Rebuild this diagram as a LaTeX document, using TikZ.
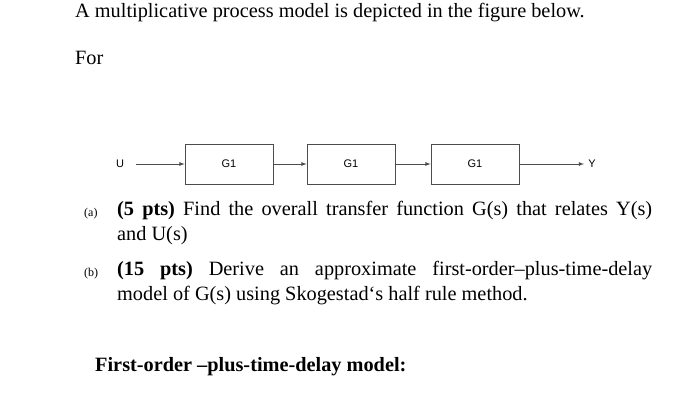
\documentclass[tikz,border=0pt]{standalone}
\usepackage{fontspec}
\setmainfont{Liberation Serif}
\newfontfamily\arial{Liberation Sans}
\begin{document}
\begin{tikzpicture}[x=1pt,y=-1pt,
  blk/.style={draw=black!70,line width=0.8pt,minimum width=88pt,minimum height=40pt,inner sep=0pt,font=\arial\fontsize{11}{13}\selectfont},
  sig/.style={font=\arial\fontsize{11}{13}\selectfont,inner sep=0pt},
  con/.style={draw=black!70,line width=0.8pt,-latex},
  txt/.style={anchor=west,inner sep=0pt,font=\fontsize{20.3}{24}\selectfont},
  par/.style={anchor=north west,inner sep=0pt,text width=535pt,align=justify,font=\fontsize{20.3}{25}\selectfont},
  lab/.style={anchor=west,inner sep=0pt,font=\fontsize{12}{14}\selectfont}]
\useasboundingbox (0,0) rectangle (700,416);
\node[txt] (t1) at (75,13) {A multiplicative process model is depicted in the figure below.};
\node[txt] (t2) at (75,58) {For};
\node[blk] (b1) at (229,164) {G1};
\node[blk] (b2) at (351,164) {G1};
\node[blk] (b3) at (475,164) {G1};
\node[sig] (u) at (120,164) {U};
\node[sig] (y) at (592,164) {Y};
\coordinate (ys) at (584,164);
\draw[con] (u.east)++(12,0) -- (b1.west);
\draw[con] (b1) -- (b2);
\draw[con] (b2) -- (b3);
\draw[con] (b3) -- (ys);
\node[lab] (la) at (84,214) {(a)};
\node[par] (pa) at (117,201) {\textbf{(5 pts)} Find the overall transfer function G(s) that relates Y(s)\linebreak and U(s)};
\node[lab] (lb) at (84,274) {(b)};
\node[par] (pb) at (117,261) {\textbf{(15 pts)} Derive an approximate first-order--plus-time-delay\linebreak model of G(s) using Skogestad‘s half rule method.};
\node[txt,font=\bfseries\fontsize{20.3}{24}\selectfont] (fo) at (95,367) {First-order --plus-time-delay model:};
\end{tikzpicture}
\end{document}
